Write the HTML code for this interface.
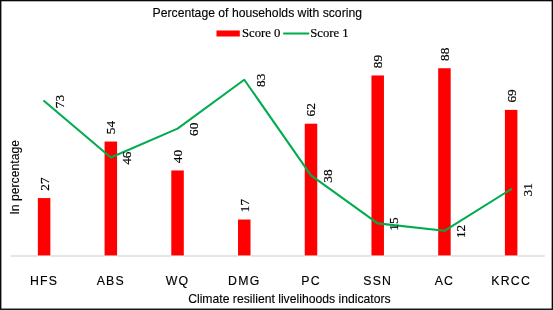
<!DOCTYPE html>
<html><head><meta charset="utf-8"><title>Chart</title>
<style>
html,body{margin:0;padding:0;background:#fff;}
svg{display:block}
.ttl{font-family:"Liberation Sans",sans-serif;font-size:12.2px;fill:#000;stroke:#000;stroke-width:0.12px}
.cat{font-family:"Liberation Sans",sans-serif;font-size:12.3px;fill:#000;letter-spacing:1.2px;stroke:#000;stroke-width:0.15px}
.dl{font-family:"Liberation Serif",serif;font-size:13.3px;fill:#000;stroke:#000;stroke-width:0.2px}
.lg{font-family:"Liberation Serif",serif;font-size:12.7px;fill:#000;stroke:#000;stroke-width:0.2px}
</style></head><body>
<svg width="553" height="310" viewBox="0 0 553 310">
<rect x="0" y="0" width="553" height="310" fill="#fff"/>
<rect x="10.75" y="254.9" width="534.06" height="2.1" fill="#e5e5e5"/>
<rect x="37.86" y="255.45" width="12.5" height="1.6" fill="#f6ffff"/>
<rect x="104.58" y="255.45" width="12.5" height="1.6" fill="#f6ffff"/>
<rect x="171.30" y="255.45" width="12.5" height="1.6" fill="#f6ffff"/>
<rect x="238.02" y="255.45" width="12.5" height="1.6" fill="#f6ffff"/>
<rect x="304.74" y="255.45" width="12.5" height="1.6" fill="#f6ffff"/>
<rect x="371.46" y="255.45" width="12.5" height="1.6" fill="#f6ffff"/>
<rect x="438.18" y="255.45" width="12.5" height="1.6" fill="#f6ffff"/>
<rect x="504.90" y="255.45" width="12.5" height="1.6" fill="#f6ffff"/>
<rect x="37.86" y="198.07" width="12.5" height="57.38" fill="#ff0000"/>
<rect x="104.58" y="141.55" width="12.5" height="113.90" fill="#ff0000"/>
<rect x="171.30" y="170.45" width="12.5" height="85.00" fill="#ff0000"/>
<rect x="238.02" y="219.54" width="12.5" height="35.91" fill="#ff0000"/>
<rect x="304.74" y="123.70" width="12.5" height="131.75" fill="#ff0000"/>
<rect x="371.46" y="75.46" width="12.5" height="179.99" fill="#ff0000"/>
<rect x="438.18" y="68.24" width="12.5" height="187.21" fill="#ff0000"/>
<rect x="504.90" y="109.89" width="12.5" height="145.56" fill="#ff0000"/>
<polyline points="44.11,100.97 110.83,157.50 177.55,128.60 244.27,79.72 310.99,175.35 377.71,223.38 444.43,230.81 511.15,189.16" fill="none" stroke="#00ac4e" stroke-width="2.05" stroke-linejoin="round" stroke-linecap="round"/>
<text class="dl" transform="translate(48.51,190.77) rotate(-90) scale(1,1.0)">27</text>
<text class="dl" transform="translate(115.23,134.25) rotate(-90) scale(1,1.0)">54</text>
<text class="dl" transform="translate(181.95,163.15) rotate(-90) scale(1,1.0)">40</text>
<text class="dl" transform="translate(248.67,212.24) rotate(-90) scale(1,1.0)">17</text>
<text class="dl" transform="translate(315.39,116.40) rotate(-90) scale(1,1.0)">62</text>
<text class="dl" transform="translate(382.11,68.16) rotate(-90) scale(1,1.0)">89</text>
<text class="dl" transform="translate(448.83,60.94) rotate(-90) scale(1,1.0)">88</text>
<text class="dl" transform="translate(515.55,102.59) rotate(-90) scale(1,1.0)">69</text>
<text class="dl" text-anchor="middle" transform="translate(64.01,101.62) rotate(-90) scale(1,1.0)">73</text>
<text class="dl" text-anchor="middle" transform="translate(130.63,158.15) rotate(-90) scale(1,1.0)">46</text>
<text class="dl" text-anchor="middle" transform="translate(197.80,129.25) rotate(-90) scale(1,1.0)">60</text>
<text class="dl" text-anchor="middle" transform="translate(264.67,80.37) rotate(-90) scale(1,1.0)">83</text>
<text class="dl" text-anchor="middle" transform="translate(331.89,176.00) rotate(-90) scale(1,1.0)">38</text>
<text class="dl" text-anchor="middle" transform="translate(398.41,224.03) rotate(-90) scale(1,1.0)">15</text>
<text class="dl" text-anchor="middle" transform="translate(465.33,231.46) rotate(-90) scale(1,1.0)">12</text>
<text class="dl" text-anchor="middle" transform="translate(531.80,189.81) rotate(-90) scale(1,1.0)">31</text>
<text class="cat" x="44.11" y="284.7" text-anchor="middle">HFS</text>
<text class="cat" x="110.83" y="284.7" text-anchor="middle">ABS</text>
<text class="cat" x="177.55" y="284.7" text-anchor="middle">WQ</text>
<text class="cat" x="244.27" y="284.7" text-anchor="middle">DMG</text>
<text class="cat" x="310.99" y="284.7" text-anchor="middle">PC</text>
<text class="cat" x="377.71" y="284.7" text-anchor="middle">SSN</text>
<text class="cat" x="444.43" y="284.7" text-anchor="middle">AC</text>
<text class="cat" x="511.15" y="284.7" text-anchor="middle">KRCC</text>
<text class="ttl" x="257.3" y="17.2" text-anchor="middle">Percentage of households with scoring</text>
<text class="ttl" x="289.4" y="303.4" text-anchor="middle">Climate resilient livelihoods indicators</text>
<text class="ttl" text-anchor="middle" transform="translate(19,177.3) rotate(-90)">In percentage</text>
<rect x="216.5" y="30.5" width="23.3" height="6" fill="#ff0000"/>
<text class="lg" x="242" y="37">Score 0</text>
<line x1="284" y1="33.5" x2="308.5" y2="33.5" stroke="#00ac4e" stroke-width="2" stroke-linecap="round"/>
<text class="lg" x="310.2" y="37">Score 1</text>
<rect x="0" y="0" width="553" height="1.3" fill="#080808"/>
<rect x="0" y="0" width="1.4" height="310" fill="#080808"/>
<rect x="551.65" y="0" width="1.35" height="310" fill="#080808"/>
<rect x="0" y="308.5" width="553" height="1.5" fill="#1a1a1a"/>
</svg>
</body></html>
